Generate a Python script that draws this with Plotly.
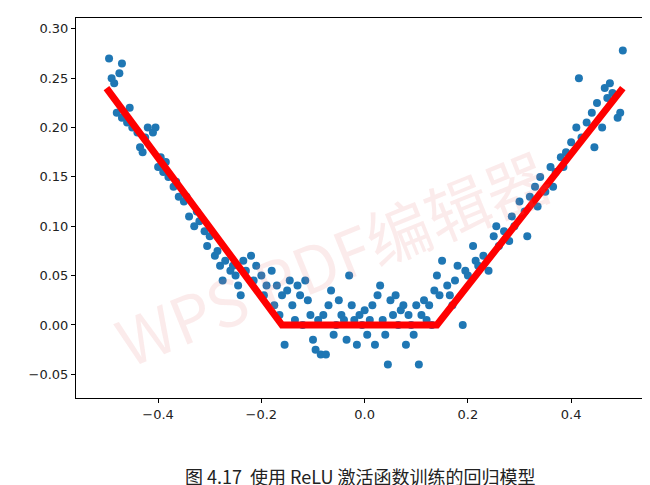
import plotly.graph_objects as go

# scatter samples
x_pts = [-0.495,-0.49,-0.485,-0.475,-0.47,-0.48,-0.47,-0.46,-0.455,-0.45,-0.44,-0.435,-0.43,-0.425,-0.42,-0.41,-0.405,-0.4,-0.395,-0.39,
         -0.385,-0.38,-0.37,-0.365,-0.36,-0.35,-0.345,-0.34,-0.33,-0.325,-0.32,-0.31,-0.305,-0.3,-0.29,-0.285,-0.28,-0.275,-0.27,-0.26,
         -0.255,-0.25,-0.245,-0.24,-0.235,-0.23,-0.22,-0.215,-0.21,-0.2,-0.195,-0.19,-0.18,-0.175,-0.17,-0.165,-0.16,-0.155,-0.15,-0.145,
         -0.14,-0.135,-0.13,-0.125,-0.12,-0.115,-0.11,-0.105,-0.1,-0.095,-0.09,-0.085,-0.08,-0.075,-0.07,-0.065,-0.06,-0.055,-0.05,-0.045,
         -0.04,-0.035,-0.03,-0.025,-0.02,-0.015,-0.01,-0.005,0.0,0.005,0.01,0.015,0.02,0.025,0.03,0.035,0.04,0.045,0.05,0.055,
         0.06,0.065,0.07,0.075,0.08,0.085,0.09,0.095,0.1,0.105,0.11,0.115,0.12,0.125,0.13,0.135,0.14,0.145,0.15,0.16,
         0.165,0.17,0.175,0.18,0.19,0.195,0.2,0.21,0.215,0.22,0.23,0.24,0.25,0.255,0.26,0.27,0.28,0.285,0.29,0.3,
         0.31,0.315,0.32,0.33,0.335,0.34,0.35,0.36,0.365,0.37,0.38,0.385,0.39,0.4,0.41,0.415,0.42,0.43,0.44,0.445,
         0.45,0.46,0.465,0.47,0.475,0.48,0.49,0.495,0.5]
y_pts = [0.27,0.25,0.245,0.255,0.265,0.215,0.21,0.205,0.22,0.2,0.195,0.18,0.175,0.19,0.2,0.195,0.2,0.16,0.17,0.155,
         0.165,0.15,0.14,0.145,0.13,0.125,0.13,0.11,0.1,0.115,0.105,0.095,0.08,0.09,0.07,0.075,0.06,0.045,0.065,0.055,
         0.06,0.05,0.04,0.03,0.065,0.055,0.07,0.045,0.06,0.05,0.03,0.04,0.055,0.02,0.04,0.01,0.03,-0.02,0.035,0.045,
         0.02,0.005,0.04,0.03,0.0,0.045,0.025,0.01,-0.015,-0.025,0.005,-0.03,0.01,-0.03,0.02,0.035,-0.01,0.0,0.025,0.01,
         0.005,-0.015,0.05,0.02,0.005,-0.02,0.01,0.0,0.015,-0.01,0.005,0.02,-0.02,0.03,0.04,0.005,-0.01,-0.04,0.025,0.01,
         0.03,0.0,0.015,0.02,-0.02,0.01,0.0,-0.01,0.02,-0.04,0.01,0.025,0.005,0.02,0.0,0.035,0.05,0.03,0.065,0.04,
         0.03,0.02,0.045,0.06,0.0,0.055,0.05,0.08,0.065,0.06,0.07,0.055,0.09,0.1,0.08,0.095,0.085,0.11,0.1,0.125,
         0.115,0.09,0.13,0.14,0.12,0.15,0.135,0.16,0.14,0.155,0.17,0.16,0.175,0.185,0.2,0.25,0.19,0.205,0.215,0.18,
         0.225,0.2,0.24,0.23,0.245,0.235,0.21,0.215,0.278]

# fitted ReLU model
x_fit = [-0.5, -0.16, 0.14, 0.5]
y_fit = [0.24, 0.0, 0.0, 0.24]

caption = "图 4.17  使用 ReLU 激活函数训练的回归模型"

fig = go.Figure()
fig.add_trace(go.Scatter(x=x_pts, y=y_pts, mode="markers",
                         marker=dict(color="#1f77b4", size=8)))
fig.add_trace(go.Scatter(x=x_fit, y=y_fit, mode="lines",
                         line=dict(color="red", width=7)))

axis = dict(showgrid=False, zeroline=False, showline=True, linecolor="black",
            mirror=True, ticks="outside", ticklen=4, tickcolor="black",
            tickfont=dict(family="DejaVu Sans", size=13, color="#222"))
fig.update_xaxes(range=[-0.559, 0.543], tickvals=[-0.4, -0.2, 0.0, 0.2, 0.4],
                 ticktext=["\u22120.4", "\u22120.2", "0.0", "0.2", "0.4"], **axis)
fig.update_yaxes(range=[-0.074, 0.311], tickvals=[-0.05, 0, 0.05, 0.1, 0.15, 0.2, 0.25, 0.3],
                 ticktext=["\u22120.05", "0.00", "0.05", "0.10", "0.15", "0.20", "0.25", "0.30"], **axis)

fig.add_annotation(text=caption, xref="paper", yref="paper", x=0.5, y=-0.205,
                   showarrow=False, yanchor="middle",
                   font=dict(family="Noto Sans CJK SC", size=18, color="#222"))
fig.add_annotation(text="WPS PDF编辑器", xref="paper", yref="paper", x=0.45, y=0.72,
                   showarrow=False, textangle=-22,
                   font=dict(family="Noto Sans CJK SC", size=64, color="rgba(230,120,120,0.15)"))

fig.update_layout(width=650, height=485, showlegend=False,
                  margin=dict(l=68, r=13, t=10, b=95),
                  plot_bgcolor="white", paper_bgcolor="white")

fig.write_html("out.html")
